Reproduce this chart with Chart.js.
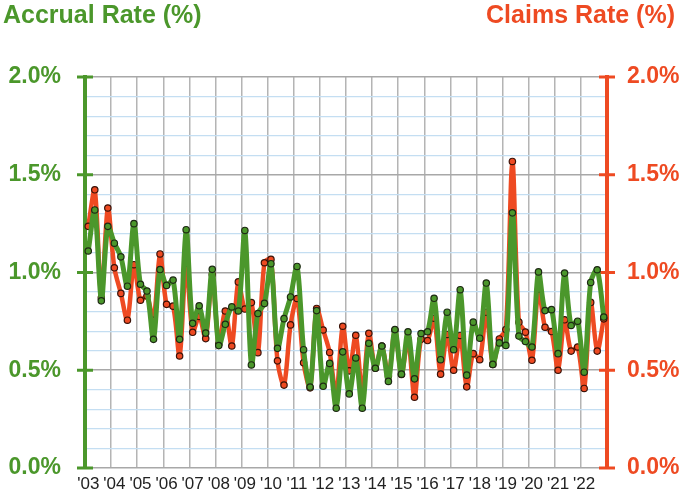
<!DOCTYPE html>
<html>
<head>
<meta charset="utf-8">
<script src="https://cdn.jsdelivr.net/npm/chart.js@4.4.1/dist/chart.umd.min.js"></script>
<style>
  html, body { margin: 0; padding: 0; background: #fff; }
  #wrap { position: relative; width: 685px; height: 492px; }
  .ttl { position: absolute; top: 0; font: bold 25px "Liberation Sans", Arial, sans-serif; line-height: 28px; white-space: nowrap; }
  #tl { left: 3px; color: #4b972b; }
  #tr { right: 10px; color: #ee4a22; }
</style>
</head>
<body>
<div id="wrap">
  <canvas id="rateChart"></canvas>
  <div class="ttl" id="tl">Accrual Rate (%)</div>
  <div class="ttl" id="tr">Claims Rate (%)</div>
</div>
<script>
// years shown on the x axis, four quarters each
var years = ['03', '04', '05', '06', '07', '08', '09', '10', '11', '12',
             '13', '14', '15', '16', '17', '18', '19', '20', '21', '22'];

// accrual rate (%) per quarter
var accrualRate = [
  1.11, 1.32, 0.855, 1.236, 1.15, 1.08, 0.93, 1.25,
  0.94, 0.905, 0.658, 1.015, 0.934, 0.961, 0.658, 1.219,
  0.74, 0.83, 0.69, 1.016, 0.626, 0.735, 0.824, 0.803,
  1.215, 0.527, 0.79, 0.842, 1.045, 0.612, 0.764, 0.875,
  1.031, 0.605, 0.414, 0.805, 0.418, 0.535, 0.306, 0.594,
  0.379, 0.563, 0.306, 0.638, 0.51, 0.624, 0.443, 0.708,
  0.48, 0.697, 0.456, 0.688, 0.697, 0.868, 0.554, 0.797,
  0.605, 0.912, 0.475, 0.746, 0.664, 0.946, 0.53, 0.64,
  0.627, 1.305, 0.675, 0.647, 0.619, 1.003, 0.805, 0.81,
  0.585, 0.997, 0.729, 0.751, 0.49, 0.949, 1.014, 0.772
];

// claims rate (%) per quarter
var claimsRate = [
  1.236, 1.423, 0.87, 1.33, 1.024, 0.893, 0.756, 1.04,
  0.858, 0.88, 0.755, 1.095, 0.837, 0.828, 0.573, 1.049,
  0.694, 0.775, 0.662, 0.99, 0.634, 0.803, 0.624, 0.952,
  0.813, 0.846, 0.59, 1.05, 1.067, 0.548, 0.424, 0.732,
  0.867, 0.538, 0.41, 0.816, 0.706, 0.591, 0.37, 0.725,
  0.497, 0.679, 0.38, 0.689, 0.51, 0.624, 0.47, 0.704,
  0.478, 0.66, 0.362, 0.659, 0.652, 0.766, 0.48, 0.683,
  0.5, 0.678, 0.415, 0.585, 0.554, 0.797, 0.53, 0.66,
  0.708, 1.568, 0.746, 0.695, 0.551, 0.915, 0.72, 0.698,
  0.5, 0.758, 0.598, 0.619, 0.407, 0.847, 0.598, 0.763
];

var GREEN = '#4b972b';
var RED = '#ee4a22';
var FONT = '"Liberation Sans", Arial, sans-serif';
var NONE = 'rgba(0,0,0,0)';

var quarterLabels = [];
years.forEach(function (y) {
  ['Q1', 'Q2', 'Q3', 'Q4'].forEach(function (q) { quarterLabels.push("'" + y + ' ' + q); });
});

function isMajor(v) { return Math.round(v * 10) % 5 === 0; }

// the short crossing ticks on both value axes
var crossTicks = {
  id: 'crossTicks',
  beforeDatasetsDraw: function (chart) {
    var ctx = chart.ctx;
    [['y', chart.chartArea.left, GREEN], ['y2', chart.chartArea.right, RED]].forEach(function (a) {
      var s = chart.scales[a[0]];
      ctx.save();
      ctx.strokeStyle = a[2];
      ctx.lineWidth = 3;
      s.ticks.forEach(function (t) {
        if (!isMajor(t.value)) return;
        var y = s.getPixelForValue(t.value);
        ctx.beginPath();
        ctx.moveTo(a[1] - 8, y);
        ctx.lineTo(a[1] + 8, y);
        ctx.stroke();
      });
      ctx.restore();
    });
  }
};

var ctx = document.getElementById('rateChart').getContext('2d');
var rateChart = new Chart(ctx, {
  type: 'line',
  data: {
    labels: quarterLabels,
    datasets: [{
      label: 'Accrual Rate (%)',
      data: accrualRate,
      yAxisID: 'y',
      borderColor: GREEN,
      borderWidth: 5,
      pointRadius: 3.2,
      pointBorderWidth: 1.2,
      pointBorderColor: '#1e2a14',
      pointBackgroundColor: GREEN,
      tension: 0.3,
      fill: false
    }, {
      label: 'Claims Rate (%)',
      data: claimsRate,
      yAxisID: 'y2',
      borderColor: RED,
      borderWidth: 4.5,
      pointRadius: 3.2,
      pointBorderWidth: 1.2,
      pointBorderColor: '#3a1208',
      pointBackgroundColor: RED,
      tension: 0.3,
      fill: false
    }]
  },
  options: {
    responsive: true,
    maintainAspectRatio: false,
    animation: false,
    layout: { padding: { top: 77, left: 0, right: 0, bottom: 0 } },
    plugins: { legend: { display: false }, tooltip: { enabled: false } },
    scales: {
      x: {
        offset: true,
        grid: {
          offset: true,
          drawTicks: false,
          lineWidth: 1.5,
          color: function (c) { return c.index % 4 === 0 ? '#b4b4b4' : NONE; }
        },
        border: { display: false },
        ticks: {
          autoSkip: false,
          maxRotation: 0,
          minRotation: 0,
          padding: 6,
          color: '#222',
          font: { family: FONT, size: 17 },
          callback: function (v, i) { return i % 4 === 0 ? "'" + years[i / 4] : ''; }
        },
        afterFit: function (s) { s.height = 24; }
      },
      y: {
        position: 'left',
        min: 0,
        max: 2,
        grid: {
          drawTicks: true,
          tickLength: 24,
          tickColor: NONE,
          color: function (c) { return isMajor(c.tick.value) ? '#a8a8a8' : '#c4def2'; },
          lineWidth: function (c) { return isMajor(c.tick.value) ? 1.6 : 1.2; }
        },
        border: { color: GREEN, width: 4 },
        ticks: {
          stepSize: 0.1,
          autoSkip: false,
          padding: 0,
          color: GREEN,
          font: { family: FONT, size: 23, weight: 'bold' },
          callback: function (v) { return isMajor(v) ? v.toFixed(1) + '%' : ''; }
        },
        afterFit: function (s) { s.width = 85; }
      },
      y2: {
        position: 'right',
        min: 0,
        max: 2,
        grid: { drawOnChartArea: false, drawTicks: true, tickLength: 20, tickColor: NONE },
        border: { color: RED, width: 4 },
        ticks: {
          stepSize: 0.1,
          autoSkip: false,
          padding: 0,
          color: RED,
          font: { family: FONT, size: 23, weight: 'bold' },
          callback: function (v) { return isMajor(v) ? v.toFixed(1) + '%' : ''; }
        },
        afterFit: function (s) { s.width = 78; }
      }
    }
  },
  plugins: [crossTicks]
});
</script>
</body>
</html>
